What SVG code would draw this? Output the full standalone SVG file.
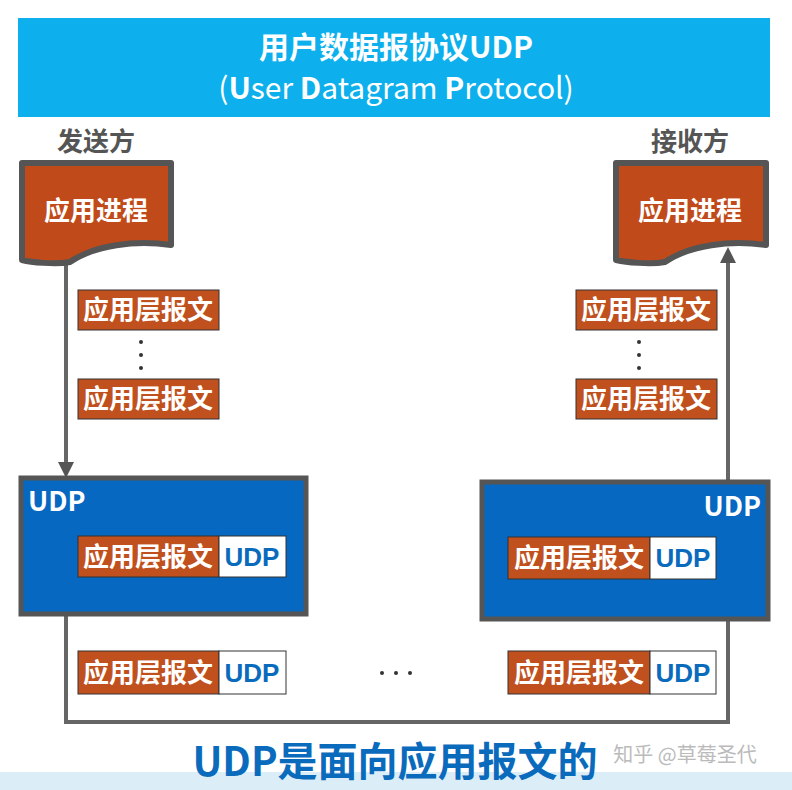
<svg xmlns="http://www.w3.org/2000/svg" width="792" height="790" viewBox="0 0 792 790">
<style>
text{font-family:"Noto Sans CJK SC","Liberation Sans",sans-serif;font-weight:bold}
.msg{fill:#c0501e;stroke:#333;stroke-width:1}
.hdr{fill:#fff;stroke:#333;stroke-width:1}
.mt{fill:#fff;font-size:26px}
.ut{fill:#0a6bbd;font-size:26px;font-family:"Liberation Sans",sans-serif}
.udp{fill:#0668c0;stroke:#555;stroke-width:5}
.doc{fill:#c04a1a;stroke:#555;stroke-width:6;stroke-linejoin:round}
.ln{fill:none;stroke:#666;stroke-width:4}
</style>
<defs><marker id="ar" markerWidth="4" markerHeight="4" refX="2" refY="2" orient="auto"><path d="M0,0L4,2L0,4z" fill="#555"/></marker></defs>
<rect width="792" height="790" fill="#fff"/>
<rect x="0" y="772" width="792" height="18" fill="#dbeef8"/>
<g id="title"><rect x="18" y="18" width="752" height="99" fill="#0db0ec"/>
<text x="396" y="58" text-anchor="middle" fill="#fff" font-size="30">用户数据报协议UDP</text>
<text x="396" y="99" text-anchor="middle" fill="#fff" font-size="30" font-family="Liberation Sans,sans-serif" style="font-weight:normal">(<tspan font-weight="bold">U</tspan>ser <tspan font-weight="bold">D</tspan>atagram <tspan font-weight="bold">P</tspan>rotocol)</text></g>
<text x="96" y="151" text-anchor="middle" fill="#555" font-size="26">发送方</text>
<text x="690" y="151" text-anchor="middle" fill="#555" font-size="26">接收方</text>
<g id="connectors">
<path class="ln" d="M66,265V470" marker-end="url(#ar)"/>
<path class="ln" d="M66,615V722H728V620"/>
<path class="ln" d="M728,481V255" marker-end="url(#ar)"/>
</g>
<g id="sender"><path class="doc" d="M22,163H171V245C135,240 95,245 70,262C55,265 30,262 22,260Z"/><text x="96" y="220" text-anchor="middle" class="mt" font-size="28">应用进程</text></g>
<g id="receiver"><path class="doc" d="M616,163H766V245C730,240 690,245 665,262C650,265 625,262 616,260Z"/><text x="690" y="220" text-anchor="middle" class="mt" font-size="28">应用进程</text></g>
<g id="smsg1"><rect class="msg" x="78" y="290" width="141" height="40"/><text class="mt" x="148" y="319" text-anchor="middle">应用层报文</text></g>
<g id="smsg2"><rect class="msg" x="78" y="379" width="141" height="40"/><text class="mt" x="148" y="408" text-anchor="middle">应用层报文</text></g>
<g id="rmsg1"><rect class="msg" x="576" y="290" width="141" height="40"/><text class="mt" x="646" y="319" text-anchor="middle">应用层报文</text></g>
<g id="rmsg2"><rect class="msg" x="576" y="379" width="141" height="40"/><text class="mt" x="646" y="408" text-anchor="middle">应用层报文</text></g>
<g fill="#333"><circle cx="141" cy="342" r="2"/><circle cx="141" cy="355" r="2"/><circle cx="141" cy="368" r="2"/><circle cx="639" cy="342" r="2"/><circle cx="639" cy="355" r="2"/><circle cx="639" cy="368" r="2"/>
<circle cx="382" cy="673" r="2"/><circle cx="396" cy="673" r="2"/><circle cx="410" cy="673" r="2"/></g>
<g id="udpS"><rect class="udp" x="21" y="478" width="285" height="136"/><text x="28" y="511" fill="#fff" font-size="27" font-family="Liberation Sans,sans-serif">UDP</text>
<rect class="msg" x="78" y="536" width="141" height="41"/><text class="mt" x="148" y="566" text-anchor="middle">应用层报文</text>
<rect class="hdr" x="219" y="536" width="67" height="41"/><text class="ut" x="252" y="566" text-anchor="middle">UDP</text></g>
<g id="udpR"><rect class="udp" x="482" y="482" width="286" height="137"/><text x="761" y="516" text-anchor="end" fill="#fff" font-size="27" font-family="Liberation Sans,sans-serif">UDP</text>
<rect class="msg" x="508" y="537" width="142" height="42"/><text class="mt" x="579" y="567" text-anchor="middle">应用层报文</text>
<rect class="hdr" x="650" y="537" width="66" height="42"/><text class="ut" x="683" y="567" text-anchor="middle">UDP</text></g>
<g id="pktL"><rect class="msg" x="78" y="651" width="141" height="43"/><text class="mt" x="148" y="682" text-anchor="middle">应用层报文</text>
<rect class="hdr" x="219" y="651" width="67" height="43"/><text class="ut" x="252" y="682" text-anchor="middle">UDP</text></g>
<g id="pktR"><rect class="msg" x="508" y="651" width="142" height="43"/><text class="mt" x="579" y="682" text-anchor="middle">应用层报文</text>
<rect class="hdr" x="650" y="651" width="66" height="43"/><text class="ut" x="683" y="682" text-anchor="middle">UDP</text></g>
<text x="395" y="776" text-anchor="middle" fill="#0a6bbd" font-size="40">UDP是面向应用报文的</text>
<text x="685" y="762" text-anchor="middle" fill="#bbb" font-size="20" style="font-weight:normal">知乎 @草莓圣代</text>
</svg>
